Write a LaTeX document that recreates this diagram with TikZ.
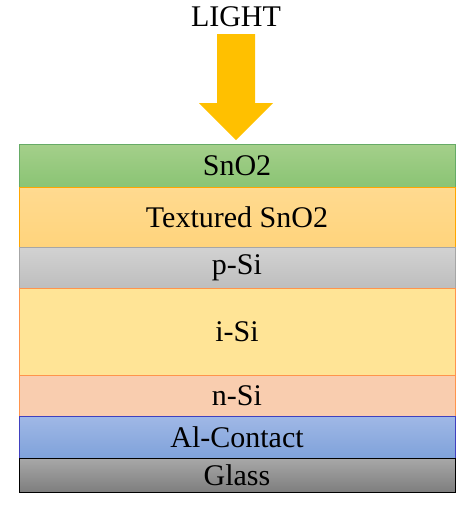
\documentclass[tikz,border=0pt]{standalone}
\usepackage{fontspec}
\setmainfont{Liberation Serif}
\usepackage{tikz}

\definecolor{snogreen}{HTML}{A4CF8A}
\definecolor{snogreendk}{HTML}{8AC474}
\definecolor{texorange}{HTML}{FFDA90}
\definecolor{texorangedk}{HTML}{FFD47C}
\definecolor{pgray}{HTML}{D2D2D2}
\definecolor{pgraydk}{HTML}{BEBEBE}
\definecolor{iyellow}{HTML}{FFE496}
\definecolor{npeach}{HTML}{F9CDAF}
\definecolor{alblue}{HTML}{A0B8E6}
\definecolor{albluedk}{HTML}{7FA2DA}
\definecolor{glassgray}{HTML}{A8A8A8}
\definecolor{glassgraydk}{HTML}{7E7E7E}
\definecolor{lightyellow}{HTML}{FFC000}

\begin{document}
\begin{tikzpicture}[x=1pt,y=-1pt]

      \useasboundingbox (0,0) rectangle (474,515);

      \node (light) at (236,17) {\fontsize{30}{36}\selectfont LIGHT};

      % arrow
      \fill[lightyellow] (217,34) -- (255,34) -- (255,103) -- (273,103)
        -- (236,140) -- (199,103) -- (217,103) -- cycle;

      \begin{scope}[every node/.style={rectangle,minimum width=436pt,
          inner sep=0pt,line width=0.8pt,font=\fontsize{30}{36}\selectfont}]
        \node[draw=green!45!black!60,top color=snogreen,bottom color=snogreendk,
          minimum height=42.5pt] (sno2) at (237,165.75) {SnO2};
        \node[draw=orange!70!yellow,top color=texorange,bottom color=texorangedk,
          minimum height=60pt] (tex) at (237,217) {Textured SnO2};
        \node[draw=gray!70,top color=pgray,bottom color=pgraydk,
          minimum height=41pt] (p) at (237,267.5) {p-Si};
        \node[draw=orange!80!red!70,fill=iyellow,
          minimum height=87pt] (i) at (237,331.5) {i-Si};
        \node[draw=orange!80!red!70,fill=npeach,
          minimum height=41pt] (n) at (237,395.5) {n-Si};
        \node[draw=blue!50!gray,top color=alblue,bottom color=albluedk,
          minimum height=42pt] (al) at (237,437) {Al-Contact};
        \node[draw=black,top color=glassgray,bottom color=glassgraydk,
          minimum height=34pt] (glass) at (237,475) {Glass};
      \end{scope}

    \end{tikzpicture}
\end{document}
